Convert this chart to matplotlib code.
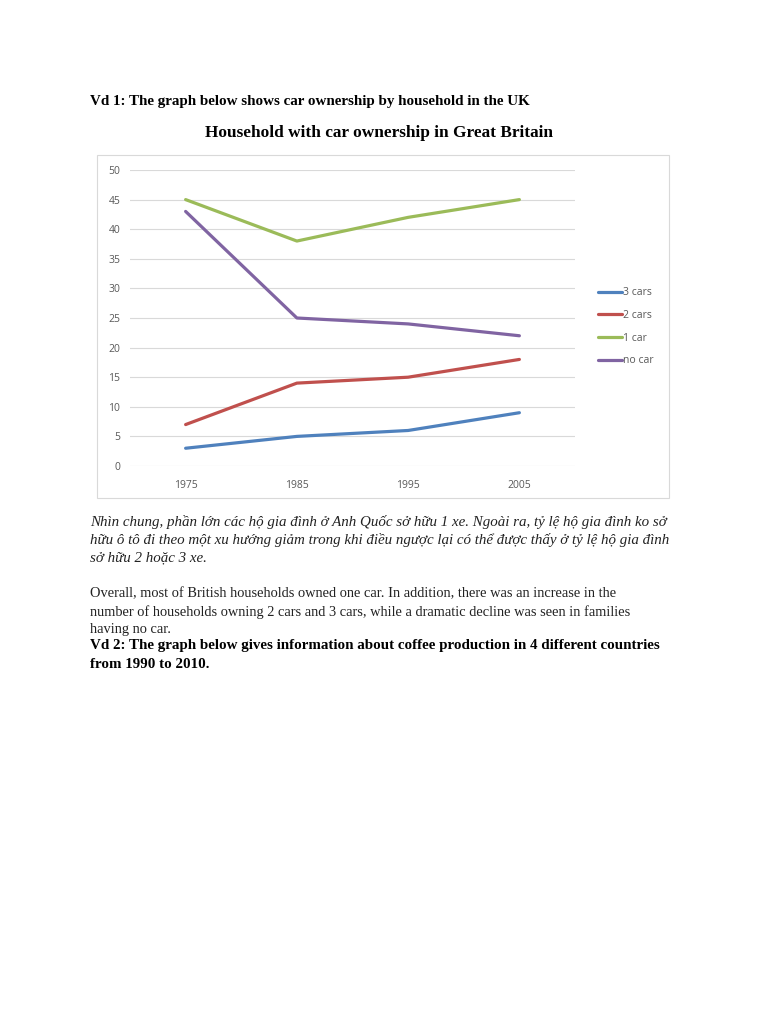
import matplotlib
matplotlib.use("Agg")
import matplotlib.pyplot as plt
from matplotlib.patches import Rectangle

years = [1975, 1985, 1995, 2005]
three_cars = [3, 5, 6, 9]
two_cars = [7, 14, 15, 18]
one_car = [45, 38, 42, 45]
no_car = [43, 25, 24, 22]
labels = ["3 cars", "2 cars", "1 car", "no car"]
colors = ["#4F81BD", "#C0504D", "#9BBB59", "#8064A2"]

W, H = 768, 1024
fig = plt.figure(figsize=(W / 100, H / 100), dpi=100)
fig.patch.set_facecolor("white")

def fx(px):
    return px / W

def fy(py):
    return 1 - py / H

serif = "Liberation Serif"

# document text
fig.text(fx(90), fy(102), "Vd 1: The graph below shows car ownership by household in the UK",
         family=serif, weight="bold", fontsize=10.8, va="center", ha="left")
fig.text(fx(379), fy(133), "Household with car ownership in Great Britain",
         family=serif, weight="bold", fontsize=12.4, va="center", ha="center")

# chart frame
fig.patches.append(Rectangle((fx(97), fy(498)), fx(669) - fx(97), fy(155) - fy(498),
                             transform=fig.transFigure, fill=False,
                             edgecolor="#D9D9D9", linewidth=0.8))

ax = fig.add_axes([fx(130), fy(466), fx(575) - fx(130), fy(170) - fy(466)])
series = [three_cars, two_cars, one_car, no_car]
for vals, lab, c in zip(series, labels, colors):
    ax.plot(years, vals, color=c, linewidth=2.3, label=lab, solid_capstyle="round")

ax.set_xlim(1970, 2010)
ax.set_ylim(0, 50)
ax.set_yticks(range(0, 51, 5))
ax.set_xticks(years)
ax.grid(axis="y", color="#D9D9D9", linewidth=0.8)
ax.set_axisbelow(True)
for s in ax.spines.values():
    s.set_visible(False)
ax.tick_params(length=0, labelsize=7.5, labelcolor="#595959")
ax.tick_params(axis="x", pad=10)
ax.tick_params(axis="y", pad=7)
for t in ax.get_xticklabels() + ax.get_yticklabels():
    t.set_family("Open Sans")

leg = ax.legend(loc="center left", bbox_to_anchor=(1.03, 0.47), frameon=False,
                handlelength=2.3, handletextpad=0.1, labelspacing=1.12,
                prop={"family": "Open Sans", "size": 7.5})
for t in leg.get_texts():
    t.set_color("#595959")

# paragraphs
viet = ["Nhìn chung, phần lớn các hộ gia đình ở Anh Quốc sở hữu 1 xe. Ngoài ra, tỷ lệ hộ gia đình ko sở",
        "hữu ô tô đi theo một xu hướng giảm trong khi điều ngược lại có thể được thấy ở tỷ lệ hộ gia đình",
        "sở hữu 2 hoặc 3 xe."]
for i, line in enumerate(viet):
    fig.text(fx(90), fy(522 + 18 * i), line, family=serif, style="italic",
             fontsize=10.8, va="center", ha="left", color="#222222")

eng = ["Overall, most of British households owned one car. In addition, there was an increase in the",
       "number of households owning 2 cars and 3 cars, while a dramatic decline was seen in families",
       "having no car."]
for i, line in enumerate(eng):
    fig.text(fx(90), fy(594 + 18 * i), line, family=serif,
             fontsize=10.4, va="center", ha="left", color="#222222")

bold = ["Vd 2: The graph below gives information about coffee production in 4 different countries",
        "from 1990 to 2010."]
for i, line in enumerate(bold):
    fig.text(fx(90), fy(646 + 18 * i), line, family=serif, weight="bold",
             fontsize=10.8, va="center", ha="left")

fig.savefig("out.png", dpi=100)
